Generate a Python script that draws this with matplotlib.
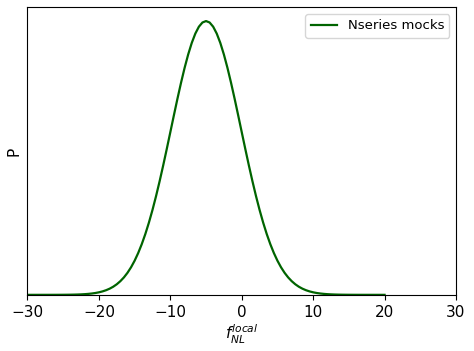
import matplotlib
matplotlib.use("Agg")
import matplotlib.pyplot as plt
import numpy as np

# f_NL values and relative P values
fnl = [x * 0.5 for x in range(-60, 41)]
half = [1.0, 0.99481, 0.97939, 0.95422, 0.92007, 0.87796, 0.82909, 0.77479,
        0.71664, 0.65592, 0.59416, 0.53263, 0.47251, 0.41487, 0.36043,
        0.30994, 0.26375, 0.22212, 0.18513, 0.15270, 0.12463, 0.10067,
        0.08047, 0.06366, 0.04985, 0.03862, 0.02961, 0.02247, 0.01688,
        0.01254, 0.00923, 0.00671, 0.00484, 0.00345, 0.00243, 0.00170,
        0.00117, 0.00080, 0.00054, 0.00036, 0.00024, 0.00016, 0.00010,
        0.00007, 0.00004, 0.00003, 0.00002, 0.00001, 0.00001, 0.0, 0.0]
# values listed from the peak (-5) outward; left side from -30, right side to 20
p_left = half[1:51][::-1]      # -30 ... -5.5
p_right = half[0:51]            # -5 ... 20
p_vals = p_left + p_right[:len(fnl) - len(p_left)]

series_label = "Nseries mocks"
xticks = [-30, -20, -10, 0, 10, 20, 30]

fig = plt.figure(figsize=(4.74, 3.51), dpi=100)
ax = fig.add_axes([0.058, 0.160, 0.904, 0.819])
ax.plot(fnl, p_vals, color="darkgreen", lw=1.6, label=series_label)
ax.set_xlim(-30, 30)
ax.set_ylim(bottom=0)
ax.set_xticks(xticks)
ax.set_yticks([])
ax.tick_params(axis="x", labelsize=11)
ax.set_xlabel(r"$f_{NL}^{local}$", fontsize=11, labelpad=2)
ax.set_ylabel("P", fontsize=11)
ax.legend(loc="upper right", fontsize=9.5)
fig.savefig("out.png", dpi=100)
